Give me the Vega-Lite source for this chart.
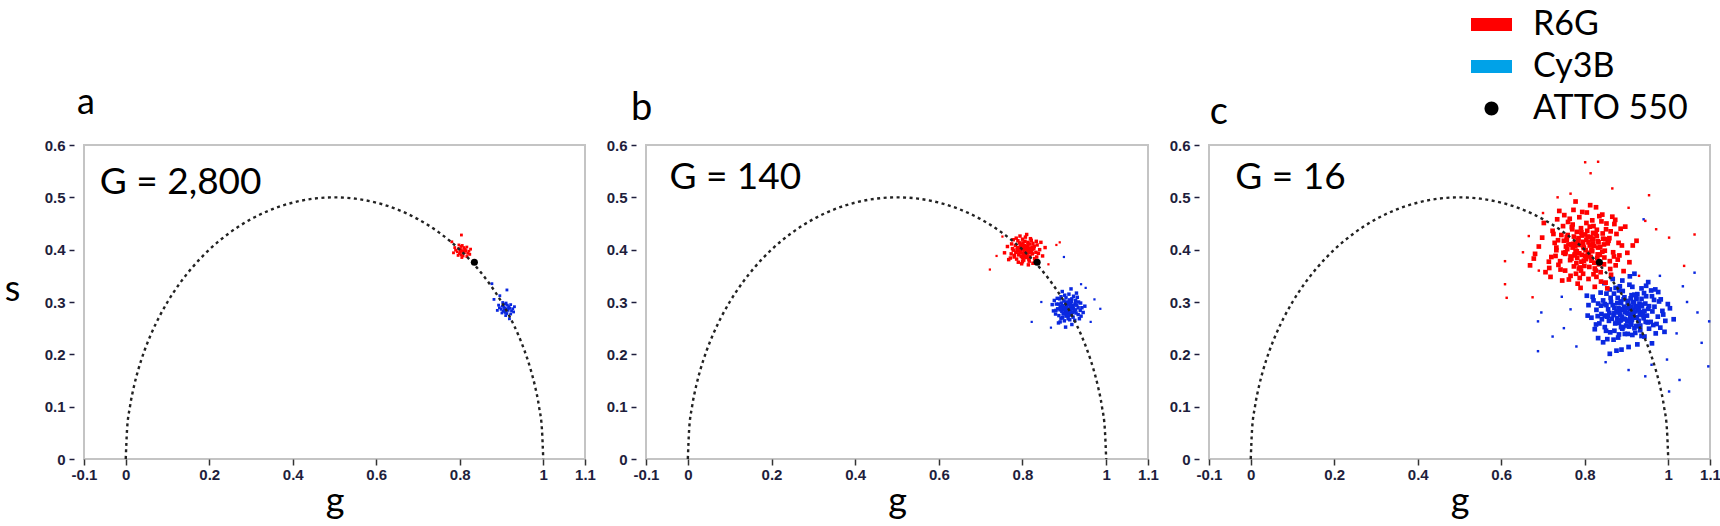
{
  "$schema": "https://vega.github.io/schema/vega-lite/v6.json",
  "background": "white",
  "padding": {"left": 3, "top": 2, "right": 0, "bottom": 0},
  "spacing": 8,
  "datasets": {
    "arc": [{"g":0,"s":0},{"g":0.003,"s":0.0547},{"g":0.01,"s":0.0995},{"g":0.02,"s":0.14},{"g":0.03,"s":0.1706},{"g":0.045,"s":0.2073},{"g":0.06,"s":0.2375},{"g":0.08,"s":0.2713},{"g":0.1,"s":0.3},{"g":0.13,"s":0.3363},{"g":0.16,"s":0.3666},{"g":0.2,"s":0.4},{"g":0.25,"s":0.433},{"g":0.3,"s":0.4583},{"g":0.35,"s":0.477},{"g":0.4,"s":0.4899},{"g":0.45,"s":0.4975},{"g":0.5,"s":0.5},{"g":0.55,"s":0.4975},{"g":0.6,"s":0.4899},{"g":0.65,"s":0.477},{"g":0.7,"s":0.4583},{"g":0.75,"s":0.433},{"g":0.8,"s":0.4},{"g":0.84,"s":0.3666},{"g":0.87,"s":0.3363},{"g":0.9,"s":0.3},{"g":0.92,"s":0.2713},{"g":0.94,"s":0.2375},{"g":0.955,"s":0.2073},{"g":0.97,"s":0.1706},{"g":0.98,"s":0.14},{"g":0.99,"s":0.0995},{"g":0.997,"s":0.0547},{"g":1,"s":0}],
    "atto": [{"g":0.835,"s":0.376}],
    "aR": [{"g":0.806,"s":0.397},{"g":0.801,"s":0.400},{"g":0.811,"s":0.394},{"g":0.797,"s":0.402},{"g":0.815,"s":0.398},{"g":0.804,"s":0.390},{"g":0.810,"s":0.404},{"g":0.794,"s":0.396},{"g":0.819,"s":0.393},{"g":0.803,"s":0.406},{"g":0.799,"s":0.392},{"g":0.813,"s":0.401},{"g":0.808,"s":0.388},{"g":0.790,"s":0.399},{"g":0.822,"s":0.397},{"g":0.806,"s":0.408},{"g":0.796,"s":0.389},{"g":0.817,"s":0.405},{"g":0.801,"s":0.395},{"g":0.812,"s":0.399},{"g":0.788,"s":0.404},{"g":0.824,"s":0.391},{"g":0.805,"s":0.385},{"g":0.798,"s":0.409},{"g":0.817,"s":0.387},{"g":0.785,"s":0.394},{"g":0.826,"s":0.401},{"g":0.808,"s":0.395},{"g":0.803,"s":0.400},{"g":0.809,"s":0.398},{"g":0.804,"s":0.428},{"g":0.781,"s":0.415}],
    "aB": [{"g":0.911,"s":0.287},{"g":0.906,"s":0.290},{"g":0.916,"s":0.284},{"g":0.902,"s":0.292},{"g":0.920,"s":0.288},{"g":0.909,"s":0.280},{"g":0.914,"s":0.294},{"g":0.899,"s":0.286},{"g":0.924,"s":0.283},{"g":0.908,"s":0.296},{"g":0.904,"s":0.282},{"g":0.918,"s":0.291},{"g":0.913,"s":0.278},{"g":0.895,"s":0.289},{"g":0.927,"s":0.287},{"g":0.911,"s":0.298},{"g":0.901,"s":0.279},{"g":0.922,"s":0.295},{"g":0.906,"s":0.285},{"g":0.917,"s":0.289},{"g":0.893,"s":0.294},{"g":0.929,"s":0.281},{"g":0.910,"s":0.274},{"g":0.903,"s":0.299},{"g":0.922,"s":0.277},{"g":0.890,"s":0.284},{"g":0.931,"s":0.291},{"g":0.913,"s":0.285},{"g":0.908,"s":0.288},{"g":0.877,"s":0.335},{"g":0.913,"s":0.323},{"g":0.882,"s":0.305},{"g":0.896,"s":0.312},{"g":0.919,"s":0.268}],
    "bR": [{"g":0.807,"s":0.393},{"g":0.792,"s":0.401},{"g":0.823,"s":0.405},{"g":0.800,"s":0.384},{"g":0.832,"s":0.395},{"g":0.783,"s":0.408},{"g":0.813,"s":0.414},{"g":0.804,"s":0.398},{"g":0.818,"s":0.387},{"g":0.795,"s":0.394},{"g":0.811,"s":0.406},{"g":0.773,"s":0.392},{"g":0.825,"s":0.412},{"g":0.789,"s":0.417},{"g":0.816,"s":0.378},{"g":0.798,"s":0.404},{"g":0.841,"s":0.400},{"g":0.802,"s":0.389},{"g":0.807,"s":0.424},{"g":0.786,"s":0.382},{"g":0.820,"s":0.399},{"g":0.797,"s":0.410},{"g":0.829,"s":0.383},{"g":0.776,"s":0.402},{"g":0.812,"s":0.396},{"g":0.791,"s":0.390},{"g":0.809,"s":0.402},{"g":0.800,"s":0.420},{"g":0.824,"s":0.392},{"g":0.764,"s":0.406},{"g":0.814,"s":0.371},{"g":0.793,"s":0.399},{"g":0.835,"s":0.409},{"g":0.803,"s":0.380},{"g":0.817,"s":0.403},{"g":0.780,"s":0.386},{"g":0.805,"s":0.408},{"g":0.796,"s":0.397},{"g":0.827,"s":0.402},{"g":0.788,"s":0.404},{"g":0.811,"s":0.389},{"g":0.767,"s":0.381},{"g":0.821,"s":0.418},{"g":0.802,"s":0.393},{"g":0.848,"s":0.388},{"g":0.793,"s":0.413},{"g":0.814,"s":0.400},{"g":0.784,"s":0.395},{"g":0.809,"s":0.385},{"g":0.799,"s":0.401},{"g":0.833,"s":0.416},{"g":0.790,"s":0.376},{"g":0.817,"s":0.411},{"g":0.778,"s":0.419},{"g":0.806,"s":0.391},{"g":0.795,"s":0.407},{"g":0.825,"s":0.374},{"g":0.801,"s":0.413},{"g":0.838,"s":0.393},{"g":0.787,"s":0.400},{"g":0.810,"s":0.429},{"g":0.797,"s":0.387},{"g":0.822,"s":0.396},{"g":0.757,"s":0.394},{"g":0.813,"s":0.409},{"g":0.791,"s":0.392},{"g":0.828,"s":0.406},{"g":0.803,"s":0.403},{"g":0.815,"s":0.382},{"g":0.774,"s":0.411},{"g":0.808,"s":0.395},{"g":0.798,"s":0.373},{"g":0.844,"s":0.414},{"g":0.788,"s":0.398},{"g":0.819,"s":0.421},{"g":0.781,"s":0.389},{"g":0.812,"s":0.405},{"g":0.805,"s":0.386},{"g":0.830,"s":0.379},{"g":0.794,"s":0.426},{"g":0.823,"s":0.401},{"g":0.771,"s":0.384},{"g":0.806,"s":0.416},{"g":0.796,"s":0.402},{"g":0.854,"s":0.404},{"g":0.785,"s":0.422},{"g":0.817,"s":0.394},{"g":0.800,"s":0.377},{"g":0.834,"s":0.386},{"g":0.778,"s":0.399}],
    "bRo": [{"g":0.738,"s":0.388},{"g":0.881,"s":0.409},{"g":0.722,"s":0.362},{"g":0.889,"s":0.414},{"g":0.862,"s":0.372},{"g":0.752,"s":0.425}],
    "bB": [{"g":0.901,"s":0.290},{"g":0.912,"s":0.278},{"g":0.917,"s":0.301},{"g":0.890,"s":0.285},{"g":0.904,"s":0.308},{"g":0.921,"s":0.271},{"g":0.930,"s":0.294},{"g":0.908,"s":0.287},{"g":0.893,"s":0.298},{"g":0.902,"s":0.281},{"g":0.919,"s":0.292},{"g":0.900,"s":0.264},{"g":0.927,"s":0.303},{"g":0.933,"s":0.276},{"g":0.881,"s":0.296},{"g":0.916,"s":0.283},{"g":0.911,"s":0.315},{"g":0.896,"s":0.285},{"g":0.942,"s":0.289},{"g":0.887,"s":0.274},{"g":0.910,"s":0.299},{"g":0.924,"s":0.282},{"g":0.889,"s":0.306},{"g":0.913,"s":0.266},{"g":0.906,"s":0.293},{"g":0.897,"s":0.277},{"g":0.914,"s":0.291},{"g":0.938,"s":0.284},{"g":0.899,"s":0.302},{"g":0.918,"s":0.257},{"g":0.871,"s":0.295},{"g":0.909,"s":0.279},{"g":0.922,"s":0.311},{"g":0.884,"s":0.287},{"g":0.915,"s":0.297},{"g":0.892,"s":0.269},{"g":0.922,"s":0.288},{"g":0.906,"s":0.281},{"g":0.913,"s":0.304},{"g":0.917,"s":0.275},{"g":0.896,"s":0.293},{"g":0.886,"s":0.260},{"g":0.934,"s":0.300},{"g":0.902,"s":0.286},{"g":0.895,"s":0.320},{"g":0.928,"s":0.279},{"g":0.910,"s":0.295},{"g":0.904,"s":0.273},{"g":0.890,"s":0.291},{"g":0.911,"s":0.284},{"g":0.931,"s":0.309},{"g":0.879,"s":0.277},{"g":0.926,"s":0.297},{"g":0.936,"s":0.268},{"g":0.898,"s":0.289},{"g":0.920,"s":0.280},{"g":0.876,"s":0.303},{"g":0.927,"s":0.285},{"g":0.901,"s":0.313},{"g":0.910,"s":0.274},{"g":0.949,"s":0.292},{"g":0.894,"s":0.282},{"g":0.905,"s":0.300},{"g":0.903,"s":0.252},{"g":0.923,"s":0.294},{"g":0.901,"s":0.278},{"g":0.918,"s":0.306},{"g":0.915,"s":0.286},{"g":0.887,"s":0.296},{"g":0.925,"s":0.265},{"g":0.904,"s":0.290},{"g":0.874,"s":0.283},{"g":0.929,"s":0.317},{"g":0.907,"s":0.275},{"g":0.939,"s":0.298},{"g":0.896,"s":0.270},{"g":0.917,"s":0.293},{"g":0.892,"s":0.288},{"g":0.883,"s":0.307},{"g":0.945,"s":0.280},{"g":0.912,"s":0.302},{"g":0.890,"s":0.262},{"g":0.933,"s":0.289},{"g":0.913,"s":0.281},{"g":0.916,"s":0.325},{"g":0.940,"s":0.273},{"g":0.903,"s":0.297},{"g":0.880,"s":0.284},{"g":0.892,"s":0.310},{"g":0.909,"s":0.268}],
    "bBo": [{"g":0.822,"s":0.262},{"g":0.986,"s":0.287},{"g":0.845,"s":0.300},{"g":0.972,"s":0.305},{"g":0.951,"s":0.327},{"g":0.868,"s":0.251},{"g":0.963,"s":0.262},{"g":0.899,"s":0.386},{"g":0.940,"s":0.334}],
    "cR": [{"g":0.806,"s":0.388},{"g":0.768,"s":0.410},{"g":0.844,"s":0.421},{"g":0.789,"s":0.366},{"g":0.868,"s":0.395},{"g":0.744,"s":0.428},{"g":0.821,"s":0.445},{"g":0.798,"s":0.403},{"g":0.834,"s":0.372},{"g":0.776,"s":0.391},{"g":0.814,"s":0.424},{"g":0.720,"s":0.386},{"g":0.851,"s":0.439},{"g":0.760,"s":0.453},{"g":0.828,"s":0.348},{"g":0.784,"s":0.418},{"g":0.889,"s":0.408},{"g":0.792,"s":0.377},{"g":0.805,"s":0.471},{"g":0.753,"s":0.360},{"g":0.837,"s":0.405},{"g":0.781,"s":0.434},{"g":0.861,"s":0.363},{"g":0.728,"s":0.413},{"g":0.818,"s":0.397},{"g":0.765,"s":0.380},{"g":0.809,"s":0.414},{"g":0.787,"s":0.462},{"g":0.847,"s":0.385},{"g":0.698,"s":0.423},{"g":0.824,"s":0.329},{"g":0.771,"s":0.404},{"g":0.876,"s":0.430},{"g":0.796,"s":0.354},{"g":0.831,"s":0.416},{"g":0.737,"s":0.371},{"g":0.801,"s":0.429},{"g":0.778,"s":0.398},{"g":0.855,"s":0.412},{"g":0.757,"s":0.419},{"g":0.816,"s":0.379},{"g":0.706,"s":0.357},{"g":0.840,"s":0.454},{"g":0.793,"s":0.390},{"g":0.907,"s":0.376},{"g":0.769,"s":0.443},{"g":0.822,"s":0.407},{"g":0.749,"s":0.394},{"g":0.811,"s":0.367},{"g":0.786,"s":0.409},{"g":0.871,"s":0.449},{"g":0.762,"s":0.343},{"g":0.829,"s":0.438},{"g":0.734,"s":0.458},{"g":0.803,"s":0.382},{"g":0.774,"s":0.425},{"g":0.850,"s":0.337},{"g":0.791,"s":0.441},{"g":0.883,"s":0.389},{"g":0.755,"s":0.406},{"g":0.813,"s":0.485},{"g":0.780,"s":0.374},{"g":0.842,"s":0.396},{"g":0.681,"s":0.392},{"g":0.820,"s":0.432},{"g":0.766,"s":0.387},{"g":0.859,"s":0.422},{"g":0.795,"s":0.415},{"g":0.826,"s":0.360},{"g":0.723,"s":0.436},{"g":0.808,"s":0.394},{"g":0.783,"s":0.335},{"g":0.897,"s":0.444},{"g":0.758,"s":0.401},{"g":0.835,"s":0.464},{"g":0.741,"s":0.378},{"g":0.817,"s":0.420},{"g":0.799,"s":0.369},{"g":0.863,"s":0.352},{"g":0.773,"s":0.476},{"g":0.846,"s":0.410},{"g":0.715,"s":0.365},{"g":0.804,"s":0.451},{"g":0.777,"s":0.412},{"g":0.924,"s":0.417},{"g":0.751,"s":0.466},{"g":0.831,"s":0.391},{"g":0.788,"s":0.346},{"g":0.874,"s":0.370},{"g":0.732,"s":0.404},{"g":0.812,"s":0.408},{"g":0.782,"s":0.384},{"g":0.836,"s":0.390},{"g":0.793,"s":0.427},{"g":0.857,"s":0.417},{"g":0.754,"s":0.395},{"g":0.824,"s":0.364},{"g":0.770,"s":0.439},{"g":0.802,"s":0.399},{"g":0.879,"s":0.381},{"g":0.736,"s":0.418},{"g":0.818,"s":0.456},{"g":0.779,"s":0.354},{"g":0.843,"s":0.431},{"g":0.796,"s":0.413},{"g":0.714,"s":0.377},{"g":0.832,"s":0.404},{"g":0.787,"s":0.393},{"g":0.866,"s":0.463},{"g":0.761,"s":0.410},{"g":0.809,"s":0.344},{"g":0.748,"s":0.445},{"g":0.848,"s":0.398},{"g":0.774,"s":0.368},{"g":0.820,"s":0.421},{"g":0.690,"s":0.406},{"g":0.806,"s":0.436},{"g":0.783,"s":0.416},{"g":0.893,"s":0.359},{"g":0.766,"s":0.350},{"g":0.829,"s":0.426},{"g":0.730,"s":0.388},{"g":0.814,"s":0.386},{"g":0.794,"s":0.472},{"g":0.852,"s":0.450},{"g":0.757,"s":0.424},{"g":0.823,"s":0.375},{"g":0.790,"s":0.327},{"g":0.881,"s":0.413},{"g":0.742,"s":0.362},{"g":0.804,"s":0.419},{"g":0.777,"s":0.407},{"g":0.839,"s":0.339},{"g":0.702,"s":0.451},{"g":0.816,"s":0.400},{"g":0.768,"s":0.383},{"g":0.862,"s":0.435},{"g":0.798,"s":0.379},{"g":0.827,"s":0.481},{"g":0.725,"s":0.430},{"g":0.846,"s":0.372},{"g":0.785,"s":0.422},{"g":0.915,"s":0.408},{"g":0.764,"s":0.459},{"g":0.810,"s":0.392},{"g":0.746,"s":0.341},{"g":0.833,"s":0.414},{"g":0.781,"s":0.397},{"g":0.870,"s":0.387},{"g":0.792,"s":0.433},{"g":0.842,"s":0.467},{"g":0.669,"s":0.370},{"g":0.821,"s":0.353},{"g":0.772,"s":0.411},{"g":0.886,"s":0.440},{"g":0.753,"s":0.392},{"g":0.807,"s":0.425},{"g":0.786,"s":0.364},{"g":0.854,"s":0.326},{"g":0.739,"s":0.474},{"g":0.830,"s":0.384},{"g":0.797,"s":0.405},{"g":0.849,"s":0.420},{"g":0.718,"s":0.348},{"g":0.812,"s":0.444},{"g":0.776,"s":0.389},{"g":0.902,"s":0.394},{"g":0.759,"s":0.428},{"g":0.819,"s":0.412},{"g":0.791,"s":0.360},{"g":0.873,"s":0.457},{"g":0.732,"s":0.399},{"g":0.838,"s":0.357},{"g":0.771,"s":0.448},{"g":0.801,"s":0.388},{"g":0.750,"s":0.417},{"g":0.826,"s":0.430},{"g":0.678,"s":0.383},{"g":0.860,"s":0.378},{"g":0.778,"s":0.492}],
    "cRo": [{"g":0.609,"s":0.378},{"g":0.613,"s":0.308},{"g":0.609,"s":0.334},{"g":0.675,"s":0.309},{"g":0.666,"s":0.426},{"g":0.766,"s":0.507},{"g":0.801,"s":0.567},{"g":0.832,"s":0.568},{"g":0.814,"s":0.546},{"g":0.866,"s":0.517},{"g":0.954,"s":0.504},{"g":1.063,"s":0.429},{"g":1.038,"s":0.369},{"g":1.002,"s":0.423},{"g":0.971,"s":0.439},{"g":0.700,"s":0.470},{"g":0.735,"s":0.500},{"g":0.905,"s":0.480},{"g":0.945,"s":0.455},{"g":0.652,"s":0.395},{"g":0.690,"s":0.360},{"g":0.930,"s":0.350}],
    "cB": [{"g":0.883,"s":0.284},{"g":0.911,"s":0.261},{"g":0.924,"s":0.306},{"g":0.855,"s":0.273},{"g":0.891,"s":0.321},{"g":0.933,"s":0.246},{"g":0.954,"s":0.292},{"g":0.901,"s":0.279},{"g":0.863,"s":0.300},{"g":0.886,"s":0.265},{"g":0.928,"s":0.288},{"g":0.880,"s":0.232},{"g":0.947,"s":0.311},{"g":0.964,"s":0.256},{"g":0.832,"s":0.297},{"g":0.920,"s":0.270},{"g":0.907,"s":0.333},{"g":0.869,"s":0.275},{"g":0.986,"s":0.283},{"g":0.848,"s":0.252},{"g":0.904,"s":0.302},{"g":0.941,"s":0.269},{"g":0.852,"s":0.316},{"g":0.914,"s":0.237},{"g":0.894,"s":0.291},{"g":0.873,"s":0.259},{"g":0.915,"s":0.285},{"g":0.975,"s":0.272},{"g":0.879,"s":0.308},{"g":0.926,"s":0.219},{"g":0.809,"s":0.294},{"g":0.902,"s":0.263},{"g":0.936,"s":0.326},{"g":0.840,"s":0.277},{"g":0.918,"s":0.299},{"g":0.861,"s":0.242},{"g":0.934,"s":0.281},{"g":0.896,"s":0.267},{"g":0.912,"s":0.313},{"g":0.922,"s":0.254},{"g":0.871,"s":0.289},{"g":0.844,"s":0.223},{"g":0.966,"s":0.304},{"g":0.885,"s":0.276},{"g":0.867,"s":0.344},{"g":0.951,"s":0.261},{"g":0.906,"s":0.293},{"g":0.890,"s":0.249},{"g":0.856,"s":0.286},{"g":0.909,"s":0.271},{"g":0.959,"s":0.322},{"g":0.827,"s":0.257},{"g":0.945,"s":0.297},{"g":0.970,"s":0.240},{"g":0.876,"s":0.282},{"g":0.929,"s":0.264},{"g":0.819,"s":0.310},{"g":0.949,"s":0.274},{"g":0.884,"s":0.330},{"g":0.906,"s":0.253},{"g":1.004,"s":0.288},{"g":0.865,"s":0.268},{"g":0.893,"s":0.305},{"g":0.888,"s":0.209},{"g":0.937,"s":0.292},{"g":0.882,"s":0.260},{"g":0.926,"s":0.315},{"g":0.917,"s":0.277},{"g":0.848,"s":0.296},{"g":0.943,"s":0.234},{"g":0.891,"s":0.285},{"g":0.816,"s":0.270},{"g":0.952,"s":0.338},{"g":0.899,"s":0.255},{"g":0.978,"s":0.301},{"g":0.871,"s":0.245},{"g":0.922,"s":0.290},{"g":0.859,"s":0.279},{"g":0.838,"s":0.318},{"g":0.993,"s":0.264},{"g":0.910,"s":0.307},{"g":0.854,"s":0.229},{"g":0.962,"s":0.282},{"g":0.913,"s":0.266},{"g":0.919,"s":0.354},{"g":0.981,"s":0.251},{"g":0.887,"s":0.298},{"g":0.831,"s":0.273},{"g":0.860,"s":0.324},{"g":0.903,"s":0.239},{"g":0.908,"s":0.287},{"g":0.878,"s":0.269},{"g":0.886,"s":0.301},{"g":0.932,"s":0.276},{"g":0.919,"s":0.314},{"g":0.892,"s":0.252},{"g":0.852,"s":0.294},{"g":0.946,"s":0.262},{"g":0.897,"s":0.281},{"g":0.874,"s":0.327},{"g":0.921,"s":0.241},{"g":0.967,"s":0.291},{"g":0.841,"s":0.267},{"g":0.936,"s":0.306},{"g":0.914,"s":0.278},{"g":0.869,"s":0.228},{"g":0.903,"s":0.299},{"g":0.889,"s":0.272},{"g":0.976,"s":0.319},{"g":0.910,"s":0.257},{"g":0.828,"s":0.285},{"g":0.954,"s":0.249},{"g":0.895,"s":0.309},{"g":0.858,"s":0.264},{"g":0.924,"s":0.292},{"g":0.905,"s":0.214},{"g":0.943,"s":0.283},{"g":0.917,"s":0.270},{"g":0.847,"s":0.336},{"g":0.835,"s":0.259},{"g":0.931,"s":0.297},{"g":0.882,"s":0.238},{"g":0.881,"s":0.288},{"g":0.988,"s":0.276},{"g":0.961,"s":0.311},{"g":0.927,"s":0.254},{"g":0.867,"s":0.294},{"g":0.807,"s":0.274},{"g":0.914,"s":0.329},{"g":0.851,"s":0.245},{"g":0.921,"s":0.282},{"g":0.907,"s":0.266},{"g":0.821,"s":0.303},{"g":0.961,"s":0.221},{"g":0.898,"s":0.289},{"g":0.877,"s":0.261},{"g":0.942,"s":0.317},{"g":0.871,"s":0.279},{"g":0.999,"s":0.296},{"g":0.936,"s":0.235},{"g":0.862,"s":0.308},{"g":0.925,"s":0.271},{"g":0.908,"s":0.349},{"g":0.972,"s":0.258},{"g":0.887,"s":0.286},{"g":0.824,"s":0.248},{"g":0.916,"s":0.300},{"g":0.894,"s":0.268},{"g":0.882,"s":0.322},{"g":0.939,"s":0.275},{"g":0.982,"s":0.305},{"g":0.860,"s":0.201},{"g":0.839,"s":0.293},{"g":0.911,"s":0.263},{"g":0.947,"s":0.331},{"g":0.887,"s":0.252},{"g":0.929,"s":0.284},{"g":0.853,"s":0.272},{"g":0.805,"s":0.312},{"g":0.991,"s":0.243},{"g":0.878,"s":0.298},{"g":0.904,"s":0.278},{"g":0.923,"s":0.309},{"g":0.832,"s":0.231},{"g":0.952,"s":0.287},{"g":0.884,"s":0.265},{"g":0.890,"s":0.341},{"g":0.933,"s":0.255},{"g":0.912,"s":0.291},{"g":0.848,"s":0.274},{"g":0.969,"s":0.324},{"g":0.896,"s":0.239},{"g":0.844,"s":0.303},{"g":0.958,"s":0.262},{"g":0.882,"s":0.280},{"g":0.919,"s":0.250},{"g":0.935,"s":0.295},{"g":0.876,"s":0.207},{"g":0.870,"s":0.316},{"g":1.013,"s":0.267}],
    "cBo": [{"g":0.688,"s":0.263},{"g":0.688,"s":0.206},{"g":0.696,"s":0.280},{"g":1.098,"s":0.263},{"g":1.096,"s":0.177},{"g":1.080,"s":0.222},{"g":1.027,"s":0.151},{"g":1.002,"s":0.129},{"g":0.945,"s":0.158},{"g":0.997,"s":0.190},{"g":0.941,"s":0.458},{"g":1.063,"s":0.356},{"g":0.766,"s":0.286},{"g":0.723,"s":0.234},{"g":0.745,"s":0.310},{"g":0.780,"s":0.215},{"g":1.045,"s":0.300},{"g":1.020,"s":0.240},{"g":0.960,"s":0.180},{"g":0.980,"s":0.350},{"g":0.750,"s":0.250},{"g":1.070,"s":0.280},{"g":0.850,"s":0.185},{"g":0.830,"s":0.360},{"g":0.905,"s":0.170},{"g":1.035,"s":0.330}]
  },
  "hconcat": [
    {
      "width": 501,
      "height": 314,
      "layer": [
        {"data": {"name": "aB"}, "mark": {"type": "square", "size": 8, "color": "#0a28e0", "opacity": 1},
         "encoding": {
           "x": {"field": "g", "type": "quantitative", "scale": {"domain": [-0.1, 1.1], "nice": false, "zero": false}, "axis": {"title": "g", "format": "~g", "values": [-0.1, 0, 0.2, 0.4, 0.6, 0.8, 1, 1.1], "labelExpr": "datum.value < 0 ? '-0.1' : datum.label"}},
           "y": {"field": "s", "type": "quantitative", "scale": {"domain": [0, 0.6], "nice": false, "zero": false}, "axis": {"title": "s", "format": "~g", "values": [0, 0.1, 0.2, 0.3, 0.4, 0.5, 0.6]}}}},
        {"data": {"name": "aR"}, "mark": {"type": "square", "size": 8, "color": "#ff0000", "opacity": 1},
         "encoding": {"x": {"field": "g", "type": "quantitative"}, "y": {"field": "s", "type": "quantitative"}}},
        {"data": {"name": "arc"}, "mark": {"type": "line", "color": "#222222", "strokeWidth": 2.4, "strokeDash": [3, 3.5], "interpolate": "monotone"},
         "encoding": {"x": {"field": "g", "type": "quantitative"}, "y": {"field": "s", "type": "quantitative"}}},
        {"data": {"name": "atto"}, "mark": {"type": "circle", "size": 50, "color": "#000000", "opacity": 1},
         "encoding": {"x": {"field": "g", "type": "quantitative"}, "y": {"field": "s", "type": "quantitative"}}},
        {"data": {"values": [{"label": "G = 2,800"}]}, "mark": {"type": "text", "align": "left", "baseline": "alphabetic", "font": "Lato", "fontSize": 37, "color": "#000000"},
         "encoding": {"x": {"datum": -0.062, "type": "quantitative"}, "y": {"datum": 0.506, "type": "quantitative"}, "text": {"field": "label"}}},
        {"data": {"values": [{"label": "a"}]}, "mark": {"type": "text", "align": "left", "baseline": "alphabetic", "font": "Lato", "fontSize": 36, "color": "#000000"},
         "encoding": {"x": {"datum": -0.117, "type": "quantitative"}, "y": {"datum": 0.659, "type": "quantitative"}, "text": {"field": "label"}}}
      ]
    },
    {
      "width": 502,
      "height": 314,
      "layer": [
        {"data": {"name": "bB"}, "mark": {"type": "square", "size": 12, "color": "#0a28e0", "opacity": 1},
         "encoding": {
           "x": {"field": "g", "type": "quantitative", "scale": {"domain": [-0.1, 1.1], "nice": false, "zero": false}, "axis": {"title": "g", "format": "~g", "values": [-0.1, 0, 0.2, 0.4, 0.6, 0.8, 1, 1.1], "labelExpr": "datum.value < 0 ? '-0.1' : datum.label"}},
           "y": {"field": "s", "type": "quantitative", "scale": {"domain": [0, 0.6], "nice": false, "zero": false}, "axis": {"title": null, "format": "~g", "values": [0, 0.1, 0.2, 0.3, 0.4, 0.5, 0.6]}}}},
        {"data": {"name": "bBo"}, "mark": {"type": "square", "size": 5, "color": "#0a28e0", "opacity": 1},
         "encoding": {"x": {"field": "g", "type": "quantitative"}, "y": {"field": "s", "type": "quantitative"}}},
        {"data": {"name": "bR"}, "mark": {"type": "square", "size": 12, "color": "#ff0000", "opacity": 1},
         "encoding": {"x": {"field": "g", "type": "quantitative"}, "y": {"field": "s", "type": "quantitative"}}},
        {"data": {"name": "bRo"}, "mark": {"type": "square", "size": 5, "color": "#ff0000", "opacity": 1},
         "encoding": {"x": {"field": "g", "type": "quantitative"}, "y": {"field": "s", "type": "quantitative"}}},
        {"data": {"name": "arc"}, "mark": {"type": "line", "color": "#222222", "strokeWidth": 2.4, "strokeDash": [3, 3.5], "interpolate": "monotone"},
         "encoding": {"x": {"field": "g", "type": "quantitative"}, "y": {"field": "s", "type": "quantitative"}}},
        {"data": {"name": "atto"}, "mark": {"type": "circle", "size": 50, "color": "#000000", "opacity": 1},
         "encoding": {"x": {"field": "g", "type": "quantitative"}, "y": {"field": "s", "type": "quantitative"}}},
        {"data": {"values": [{"label": "G = 140"}]}, "mark": {"type": "text", "align": "left", "baseline": "alphabetic", "font": "Lato", "fontSize": 37, "color": "#000000"},
         "encoding": {"x": {"datum": -0.044, "type": "quantitative"}, "y": {"datum": 0.515, "type": "quantitative"}, "text": {"field": "label"}}},
        {"data": {"values": [{"label": "b"}]}, "mark": {"type": "text", "align": "left", "baseline": "alphabetic", "font": "Lato", "fontSize": 38, "color": "#000000"},
         "encoding": {"x": {"datum": -0.136, "type": "quantitative"}, "y": {"datum": 0.648, "type": "quantitative"}, "text": {"field": "label"}}}
      ]
    },
    {
      "width": 501,
      "height": 314,
      "layer": [
        {"data": {"name": "cB"}, "mark": {"type": "square", "size": 22, "color": "#0a28e0", "opacity": 1},
         "encoding": {
           "x": {"field": "g", "type": "quantitative", "scale": {"domain": [-0.1, 1.1], "nice": false, "zero": false}, "axis": {"title": "g", "format": "~g", "values": [-0.1, 0, 0.2, 0.4, 0.6, 0.8, 1, 1.1], "labelExpr": "datum.value < 0 ? '-0.1' : datum.label"}},
           "y": {"field": "s", "type": "quantitative", "scale": {"domain": [0, 0.6], "nice": false, "zero": false}, "axis": {"title": null, "format": "~g", "values": [0, 0.1, 0.2, 0.3, 0.4, 0.5, 0.6]}}}},
        {"data": {"name": "cBo"}, "mark": {"type": "square", "size": 6, "color": "#0a28e0", "opacity": 1},
         "encoding": {"x": {"field": "g", "type": "quantitative"}, "y": {"field": "s", "type": "quantitative"}}},
        {"data": {"name": "cR"}, "mark": {"type": "square", "size": 22, "color": "#ff0000", "opacity": 1},
         "encoding": {"x": {"field": "g", "type": "quantitative"}, "y": {"field": "s", "type": "quantitative"}}},
        {"data": {"name": "cRo"}, "mark": {"type": "square", "size": 6, "color": "#ff0000", "opacity": 1},
         "encoding": {"x": {"field": "g", "type": "quantitative"}, "y": {"field": "s", "type": "quantitative"}}},
        {"data": {"name": "arc"}, "mark": {"type": "line", "color": "#222222", "strokeWidth": 2.4, "strokeDash": [3, 3.5], "interpolate": "monotone"},
         "encoding": {"x": {"field": "g", "type": "quantitative"}, "y": {"field": "s", "type": "quantitative"}}},
        {"data": {"name": "atto"}, "mark": {"type": "circle", "size": 50, "color": "#000000", "opacity": 1},
         "encoding": {"x": {"field": "g", "type": "quantitative"}, "y": {"field": "s", "type": "quantitative"}}},
        {"data": {"values": [{"label": "G = 16"}]}, "mark": {"type": "text", "align": "left", "baseline": "alphabetic", "font": "Lato", "fontSize": 37, "color": "#000000"},
         "encoding": {"x": {"datum": -0.037, "type": "quantitative"}, "y": {"datum": 0.515, "type": "quantitative"}, "text": {"field": "label"}}},
        {"data": {"values": [{"label": "c"}]}, "mark": {"type": "text", "align": "left", "baseline": "alphabetic", "font": "Lato", "fontSize": 38, "color": "#000000"},
         "encoding": {"x": {"datum": -0.098, "type": "quantitative"}, "y": {"datum": 0.640, "type": "quantitative"}, "text": {"field": "label"}}},
        {"data": {"values": [{"dye": "R6G"}, {"dye": "Cy3B"}, {"dye": "ATTO 550"}]},
         "mark": {"type": "point", "filled": true, "opacity": 0, "stroke": "#3c5a99", "strokeWidth": 1.5},
         "encoding": {
           "color": {"field": "dye", "type": "nominal", "scale": {"domain": ["R6G", "Cy3B", "ATTO 550"], "range": ["#ff0000", "#00a2e8", "#000000"]}, "legend": {"title": null}},
           "shape": {"field": "dye", "type": "nominal", "scale": {"domain": ["R6G", "Cy3B", "ATTO 550"], "range": ["M-1,-0.32H1V0.32H-1Z", "M-1,-0.32H1V0.32H-1Z", "M0.34,0A0.34,0.34,0,1,1,-0.34,0A0.34,0.34,0,1,1,0.34,0Z"]}, "legend": {"title": null}}}}
      ]
    }
  ],
  "resolve": {"scale": {"color": "independent", "shape": "independent"}, "legend": {"color": "independent", "shape": "independent"}},
  "config": {
    "view": {"stroke": "#c4c4c4", "strokeWidth": 2},
    "axis": {"grid": false, "domain": false, "labelFont": "Liberation Sans", "labelFontSize": 15, "labelFontWeight": "bold", "labelColor": "#1e1e3c", "labelFlush": false, "labelOverlap": false, "tickColor": "#333333", "tickWidth": 1.5, "titleFont": "Lato", "titleFontSize": 36, "titleFontWeight": "normal", "titleColor": "#000000"},
    "axisX": {"tickSize": 6, "labelPadding": 2, "titleY": 53, "titleBaseline": "alphabetic"},
    "axisY": {"tickSize": 5, "labelPadding": 4, "offset": 10, "tickColor": "#1e1e3c", "titleAngle": 0, "titleX": -62, "titleY": 155, "titleAlign": "center", "titleBaseline": "alphabetic"},
    "legend": {"orient": "none", "legendX": 261, "legendY": -142, "padding": 0, "labelFont": "Lato", "labelFontSize": 34, "labelColor": "#000000", "labelOffset": 20, "symbolSize": 1681, "symbolStrokeColor": "#3c5a99", "symbolStrokeWidth": 1.5, "symbolOpacity": 1, "rowPadding": 3, "labelLimit": 400}
  }
}
